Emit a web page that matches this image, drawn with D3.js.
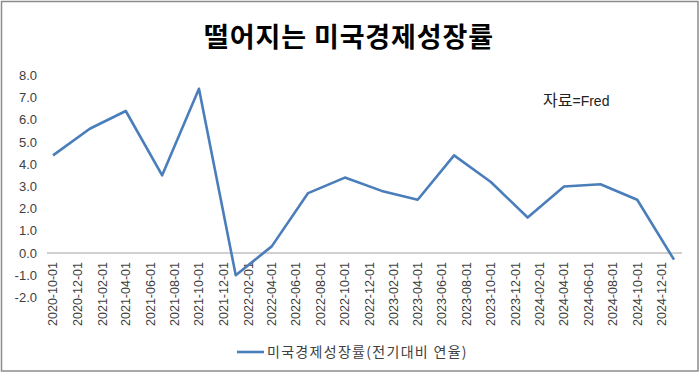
<!DOCTYPE html>
<html>
<head>
<meta charset="utf-8">
<script src="https://cdn.jsdelivr.net/npm/d3@7"></script>
<style>
  html, body { margin: 0; padding: 0; background: #fff; }
  svg { display: block; }
</style>
</head>
<body>
<svg id="chart" width="700" height="374"></svg>
<script>
const title = "떨어지는 미국경제성장률";
const seriesName = "미국경제성장률(전기대비 연율)";
const sourceKo = "자료";
const sourceEn = "=Fred";

const dates = ["2020-10-01","2021-01-01","2021-04-01","2021-07-01","2021-10-01","2022-01-01",
               "2022-04-01","2022-07-01","2022-10-01","2023-01-01","2023-04-01","2023-07-01",
               "2023-10-01","2024-01-01","2024-04-01","2024-07-01","2024-10-01","2025-01-01"];
const values = [4.4, 5.6, 6.4, 3.5, 7.4, -1.0, 0.3, 2.7, 3.4, 2.8, 2.4, 4.4, 3.2, 1.6, 3.0, 3.1, 2.4, -0.3];

const xTickLabels = ["2020-10-01","2020-12-01","2021-02-01","2021-04-01","2021-06-01","2021-08-01",
  "2021-10-01","2021-12-01","2022-02-01","2022-04-01","2022-06-01","2022-08-01","2022-10-01",
  "2022-12-01","2023-02-01","2023-04-01","2023-06-01","2023-08-01","2023-10-01","2023-12-01",
  "2024-02-01","2024-04-01","2024-06-01","2024-08-01","2024-10-01","2024-12-01"];
const yTicks = [-2, -1, 0, 1, 2, 3, 4, 5, 6, 7, 8];

const parse = d3.utcParse("%Y-%m-%d");
const latin = "'Liberation Sans', Arial, 'Noto Sans CJK KR', sans-serif";
const kor = "'Noto Sans CJK KR', 'Liberation Sans', sans-serif";
const lineColor = "#4a7ebb";
const textColor = "#404040";

const svg = d3.select("#chart");

// outer border
svg.append("rect").attr("x", 1.5).attr("y", 1.5).attr("width", 696.5).attr("height", 369.5)
  .attr("fill", "#fff").attr("stroke", "#8c8c8c").attr("stroke-width", 1.5);

// title
svg.append("text").attr("x", 349).attr("y", 47).attr("text-anchor", "middle")
  .attr("font-family", kor).attr("font-weight", "bold").attr("font-size", 27)
  .attr("letter-spacing", 0.9).attr("fill", "#000").text(title);

const x = d3.scaleUtc().domain([parse(dates[0]), parse(dates[dates.length - 1])]).range([53, 674]);
const y = d3.scaleLinear().domain([-2, 8]).range([297.4, 75.5]);

// y labels
svg.append("g").selectAll("text").data(yTicks).join("text")
  .attr("x", 37).attr("y", d => y(d)).attr("dy", "0.35em").attr("text-anchor", "end")
  .attr("font-family", latin).attr("font-size", 13).attr("fill", textColor)
  .text(d => d.toFixed(1));

// zero line (category axis)
svg.append("line").attr("x1", 47).attr("x2", 682).attr("y1", y(0)).attr("y2", y(0))
  .attr("stroke", "#c0c0c0").attr("stroke-width", 1.5);

// x labels
svg.append("g").selectAll("text").data(xTickLabels).join("text")
  .attr("transform", d => `translate(${x(parse(d))},262) rotate(-90)`)
  .attr("dy", "0.35em").attr("text-anchor", "end")
  .attr("font-family", latin).attr("font-size", 12.5).attr("fill", textColor)
  .text(d => d);

// line
const line = d3.line().x((d, i) => x(parse(dates[i]))).y(d => y(d));
svg.append("path").datum(values).attr("d", line)
  .attr("fill", "none").attr("stroke", lineColor).attr("stroke-width", 2.6)
  .attr("stroke-linejoin", "round");

// source annotation
const src = svg.append("text").attr("x", 543).attr("y", 106).attr("fill", "#222");
src.append("tspan").attr("font-family", kor).attr("font-size", 16).text(sourceKo);
src.append("tspan").attr("font-family", latin).attr("font-size", 14).text(sourceEn);

// legend
svg.append("line").attr("x1", 237).attr("x2", 264).attr("y1", 352).attr("y2", 352)
  .attr("stroke", lineColor).attr("stroke-width", 2.6);
svg.append("text").attr("x", 267).attr("y", 357)
  .attr("font-family", kor).attr("font-size", 14).attr("letter-spacing", 1.3)
  .attr("fill", textColor).text(seriesName);
</script>
</body>
</html>
